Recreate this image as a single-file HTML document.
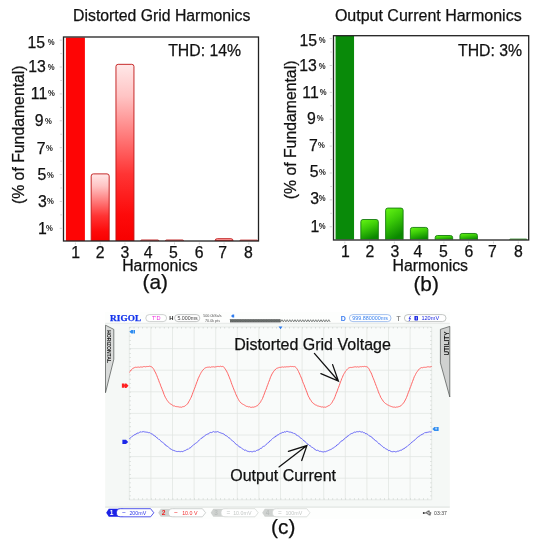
<!DOCTYPE html>
<html><head><meta charset="utf-8"><title>Harmonics figure</title>
<style>
html,body{margin:0;padding:0;background:#fff;}
body{width:540px;height:550px;overflow:hidden;}
svg{display:block;}
text{font-family:"Liberation Sans",sans-serif;fill:#111;}
.t16,.cap{stroke:#111;stroke-width:0.25px;}
.t16{font-size:15.8px;}
.yl{font-size:15px;text-anchor:end;}
.pc{font-size:9.4px;font-weight:bold;fill:#1a1a1a;}
.xl{font-size:15px;text-anchor:middle;}
.cap{font-size:20.8px;}
.tick{stroke:#d2d2d2;stroke-width:1;}
.sm{font-size:5.5px;}
</style></head><body>
<svg width="540" height="550" viewBox="0 0 540 550">
<defs>
<linearGradient id="gr" x1="0" y1="0" x2="0" y2="1"><stop offset="0" stop-color="#ffe8e8"/><stop offset="0.18" stop-color="#ffc4c4"/><stop offset="0.62" stop-color="#ff3434"/><stop offset="0.85" stop-color="#fd0a0a"/><stop offset="1" stop-color="#f80000"/></linearGradient>
<linearGradient id="gg" x1="0" y1="0" x2="0.35" y2="1"><stop offset="0" stop-color="#66f614"/><stop offset="0.45" stop-color="#3ccc08"/><stop offset="1" stop-color="#0a8800"/></linearGradient>
<clipPath id="cl"><rect x="64" y="37.5" width="194" height="203.5"/></clipPath>
<clipPath id="cr"><rect x="334" y="36" width="194.5" height="203.5"/></clipPath>
<clipPath id="cg"><rect x="129" y="326" width="303" height="175"/></clipPath>
</defs>
<rect width="540" height="550" fill="#fff"/>

<g clip-path="url(#cl)">
<rect x="65.90" y="32" width="19.0" height="209" fill="#fe0505"/>
<path d="M91.18,241.50 V176.08 Q91.18,173.88 93.38,173.88 H106.98 Q109.18,173.88 109.18,176.08 V241.50 Z" fill="url(#gr)" stroke="#c01414" stroke-width="0.9"/>
<path d="M115.96,241.50 V66.54 Q115.96,64.34 118.16,64.34 H131.76 Q133.96,64.34 133.96,66.54 V241.50 Z" fill="url(#gr)" stroke="#c01414" stroke-width="0.9"/>
<path d="M140.74,241.50 V240.90 Q140.74,240.00 141.64,240.00 H157.84 Q158.74,240.00 158.74,240.90 V241.50 Z" fill="url(#gr)" stroke="#c01414" stroke-width="0.9"/>
<path d="M165.52,241.50 V240.90 Q165.52,240.00 166.42,240.00 H182.62 Q183.52,240.00 183.52,240.90 V241.50 Z" fill="url(#gr)" stroke="#c01414" stroke-width="0.9"/>
<path d="M215.08,241.50 V240.86 Q215.08,238.66 217.28,238.66 H230.88 Q233.08,238.66 233.08,240.86 V241.50 Z" fill="url(#gr)" stroke="#c01414" stroke-width="0.9"/>
<path d="M239.86,241.50 V240.95 Q239.86,240.14 240.68,240.14 H257.04 Q257.86,240.14 257.86,240.95 V241.50 Z" fill="url(#gr)" stroke="#c01414" stroke-width="0.9"/>
</g>
<rect x="63.5" y="37" width="195.0" height="204" fill="none" stroke="#222" stroke-width="1.3"/>
<line class="tick" x1="59.699999999999996" x2="61.9" y1="228.31" y2="228.31"/>
<line class="tick" x1="60.3" x2="61.9" y1="214.87" y2="214.87"/>
<line class="tick" x1="59.699999999999996" x2="61.9" y1="201.43" y2="201.43"/>
<line class="tick" x1="60.3" x2="61.9" y1="187.99" y2="187.99"/>
<line class="tick" x1="59.699999999999996" x2="61.9" y1="174.55" y2="174.55"/>
<line class="tick" x1="60.3" x2="61.9" y1="161.11" y2="161.11"/>
<line class="tick" x1="59.699999999999996" x2="61.9" y1="147.67" y2="147.67"/>
<line class="tick" x1="60.3" x2="61.9" y1="134.23" y2="134.23"/>
<line class="tick" x1="59.699999999999996" x2="61.9" y1="120.79" y2="120.79"/>
<line class="tick" x1="60.3" x2="61.9" y1="107.35" y2="107.35"/>
<line class="tick" x1="59.699999999999996" x2="61.9" y1="93.91" y2="93.91"/>
<line class="tick" x1="60.3" x2="61.9" y1="80.47" y2="80.47"/>
<line class="tick" x1="59.699999999999996" x2="61.9" y1="67.03" y2="67.03"/>
<line class="tick" x1="60.3" x2="61.9" y1="53.59" y2="53.59"/>
<line class="tick" x1="59.699999999999996" x2="61.9" y1="40.15" y2="40.15"/>
<line class="tick" x1="75.40" x2="75.40" y1="242.5" y2="244.5"/>
<text class="t16" x="71.2" y="257.6">1</text>
<line class="tick" x1="100.18" x2="100.18" y1="242.5" y2="244.5"/>
<text class="t16" x="95.7" y="257.6">2</text>
<line class="tick" x1="124.96" x2="124.96" y1="242.5" y2="244.5"/>
<text class="t16" x="120.6" y="257.6">3</text>
<line class="tick" x1="149.74" x2="149.74" y1="242.5" y2="244.5"/>
<text class="t16" x="143.8" y="257.6">4</text>
<line class="tick" x1="174.52" x2="174.52" y1="242.5" y2="244.5"/>
<text class="t16" x="169.1" y="257.6">5</text>
<line class="tick" x1="199.30" x2="199.30" y1="242.5" y2="244.5"/>
<text class="t16" x="194.8" y="257.6">6</text>
<line class="tick" x1="224.08" x2="224.08" y1="242.5" y2="244.5"/>
<text class="t16" x="218.2" y="257.6">7</text>
<line class="tick" x1="248.86" x2="248.86" y1="242.5" y2="244.5"/>
<text class="t16" x="244.1" y="257.6">8</text>
<text class="t16" x="27.5" y="47.7">15</text><text class="pc" transform="translate(47.8,45.10) scale(0.82,1)">%</text>
<text class="t16" x="28.3" y="72.4">13</text><text class="pc" transform="translate(47.8,69.80) scale(0.82,1)">%</text>
<text class="t16" x="30.8" y="99.0">11</text><text class="pc" transform="translate(47.9,96.40) scale(0.82,1)">%</text>
<text class="t16" x="34.8" y="126.2">9</text><text class="pc" transform="translate(44.9,123.60) scale(0.82,1)">%</text>
<text class="t16" x="36.8" y="153.6">7</text><text class="pc" transform="translate(45.9,151.00) scale(0.82,1)">%</text>
<text class="t16" x="37.6" y="180.3">5</text><text class="pc" transform="translate(46.9,177.70) scale(0.82,1)">%</text>
<text class="t16" x="38.1" y="207.0">3</text><text class="pc" transform="translate(47.1,204.40) scale(0.82,1)">%</text>
<text class="t16" x="38.1" y="234.0">1</text><text class="pc" transform="translate(46.1,231.40) scale(0.82,1)">%</text>
<text class="t16" x="73.1" y="21.2" style="font-size:15.8px">Distorted Grid Harmonics</text>
<text class="t16" x="168.2" y="55.9">THD: 14%</text>
<text class="t16" x="122.2" y="271.3">Harmonics</text>
<text class="cap" x="142.6" y="289.3">(a)</text>
<text class="t16" transform="translate(23.5,204.1) rotate(-90)">(% of Fundamental)</text>
<g clip-path="url(#cr)">
<rect x="335.55" y="30.700000000000003" width="18.5" height="209.3" fill="#098a09"/>
<path d="M360.83,240.50 V221.70 Q360.83,219.50 363.03,219.50 H376.13 Q378.33,219.50 378.33,221.70 V240.50 Z" fill="url(#gg)" stroke="#167c10" stroke-width="0.9"/>
<path d="M385.61,240.50 V210.28 Q385.61,208.08 387.81,208.08 H400.91 Q403.11,208.08 403.11,210.28 V240.50 Z" fill="url(#gg)" stroke="#167c10" stroke-width="0.9"/>
<path d="M410.39,240.50 V229.63 Q410.39,227.43 412.59,227.43 H425.69 Q427.89,227.43 427.89,229.63 V240.50 Z" fill="url(#gg)" stroke="#167c10" stroke-width="0.9"/>
<path d="M435.17,240.50 V237.70 Q435.17,235.50 437.37,235.50 H450.47 Q452.67,235.50 452.67,237.70 V240.50 Z" fill="url(#gg)" stroke="#167c10" stroke-width="0.9"/>
<path d="M459.95,240.50 V235.68 Q459.95,233.48 462.15,233.48 H475.25 Q477.45,233.48 477.45,235.68 V240.50 Z" fill="url(#gg)" stroke="#167c10" stroke-width="0.9"/>
<path d="M509.51,240.50 V239.95 Q509.51,239.12 510.34,239.12 H526.18 Q527.01,239.12 527.01,239.95 V240.50 Z" fill="url(#gg)" stroke="#167c10" stroke-width="0.9"/>
</g>
<rect x="333.5" y="35.7" width="195.20000000000005" height="204.3" fill="none" stroke="#222" stroke-width="1.3"/>
<line class="tick" x1="329.7" x2="331.9" y1="226.76" y2="226.76"/>
<line class="tick" x1="330.29999999999995" x2="331.9" y1="213.32" y2="213.32"/>
<line class="tick" x1="329.7" x2="331.9" y1="199.88" y2="199.88"/>
<line class="tick" x1="330.29999999999995" x2="331.9" y1="186.44" y2="186.44"/>
<line class="tick" x1="329.7" x2="331.9" y1="173.00" y2="173.00"/>
<line class="tick" x1="330.29999999999995" x2="331.9" y1="159.56" y2="159.56"/>
<line class="tick" x1="329.7" x2="331.9" y1="146.12" y2="146.12"/>
<line class="tick" x1="330.29999999999995" x2="331.9" y1="132.68" y2="132.68"/>
<line class="tick" x1="329.7" x2="331.9" y1="119.24" y2="119.24"/>
<line class="tick" x1="330.29999999999995" x2="331.9" y1="105.80" y2="105.80"/>
<line class="tick" x1="329.7" x2="331.9" y1="92.36" y2="92.36"/>
<line class="tick" x1="330.29999999999995" x2="331.9" y1="78.92" y2="78.92"/>
<line class="tick" x1="329.7" x2="331.9" y1="65.48" y2="65.48"/>
<line class="tick" x1="330.29999999999995" x2="331.9" y1="52.04" y2="52.04"/>
<line class="tick" x1="329.7" x2="331.9" y1="38.60" y2="38.60"/>
<line class="tick" x1="344.80" x2="344.80" y1="241.5" y2="243.5"/>
<text class="t16" x="341.0" y="256.70000000000005">1</text>
<line class="tick" x1="369.58" x2="369.58" y1="241.5" y2="243.5"/>
<text class="t16" x="365.5" y="256.70000000000005">2</text>
<line class="tick" x1="394.36" x2="394.36" y1="241.5" y2="243.5"/>
<text class="t16" x="390.4" y="256.70000000000005">3</text>
<line class="tick" x1="419.14" x2="419.14" y1="241.5" y2="243.5"/>
<text class="t16" x="413.6" y="256.70000000000005">4</text>
<line class="tick" x1="443.92" x2="443.92" y1="241.5" y2="243.5"/>
<text class="t16" x="438.9" y="256.70000000000005">5</text>
<line class="tick" x1="468.70" x2="468.70" y1="241.5" y2="243.5"/>
<text class="t16" x="464.6" y="256.70000000000005">6</text>
<line class="tick" x1="493.48" x2="493.48" y1="241.5" y2="243.5"/>
<text class="t16" x="488.0" y="256.70000000000005">7</text>
<line class="tick" x1="518.26" x2="518.26" y1="241.5" y2="243.5"/>
<text class="t16" x="513.9" y="256.70000000000005">8</text>
<text class="t16" x="299.5" y="45.9">15</text><text class="pc" transform="translate(318.8,43.30) scale(0.82,1)">%</text>
<text class="t16" x="299.3" y="71.1">13</text><text class="pc" transform="translate(318.8,68.50) scale(0.82,1)">%</text>
<text class="t16" x="302.3" y="97.8">11</text><text class="pc" transform="translate(319.85,95.20) scale(0.82,1)">%</text>
<text class="t16" x="306.9" y="123.5">9</text><text class="pc" transform="translate(316.7,120.90) scale(0.82,1)">%</text>
<text class="t16" x="308.9" y="150.6">7</text><text class="pc" transform="translate(317.9,148.00) scale(0.82,1)">%</text>
<text class="t16" x="309.8" y="177.45">5</text><text class="pc" transform="translate(318.9,174.85) scale(0.82,1)">%</text>
<text class="t16" x="310.2" y="204.0">3</text><text class="pc" transform="translate(318.8,201.40) scale(0.82,1)">%</text>
<text class="t16" x="310.5" y="231.7">1</text><text class="pc" transform="translate(318.8,229.10) scale(0.82,1)">%</text>
<text class="t16" x="334.9" y="20.9" style="font-size:16.0px">Output Current Harmonics</text>
<text class="t16" x="458" y="55.7">THD: 3%</text>
<text class="t16" x="392.5" y="270.8">Harmonics</text>
<text class="cap" x="413.4" y="290.6">(b)</text>
<text class="t16" transform="translate(295.5,199.3) rotate(-90)">(% of Fundamental)</text>
<rect x="105.2" y="312.0" width="344.6" height="207.0" fill="#fdfefd"/>
<rect x="105.2" y="323.3" width="344.6" height="183.8" fill="#f5f8f6"/>
<line x1="105.2" x2="449.8" y1="323.3" y2="323.3" stroke="#dfe4e1" stroke-width="0.8"/>
<line x1="105.2" x2="449.8" y1="507.1" y2="507.1" stroke="#d4d9d6" stroke-width="0.8"/>
<rect x="129.3" y="327.0" width="302.40000000000003" height="172.8" fill="#f9fbfa"/>
<path d="M129.30,327.0V499.80M150.90,327.0V499.80M172.50,327.0V499.80M194.10,327.0V499.80M215.70,327.0V499.80M237.30,327.0V499.80M258.90,327.0V499.80M280.50,327.0V499.80M302.10,327.0V499.80M323.70,327.0V499.80M345.30,327.0V499.80M366.90,327.0V499.80M388.50,327.0V499.80M410.10,327.0V499.80M431.70,327.0V499.80M129.3,327.00H431.70M129.3,348.60H431.70M129.3,370.20H431.70M129.3,391.80H431.70M129.3,413.40H431.70M129.3,435.00H431.70M129.3,456.60H431.70M129.3,478.20H431.70M129.3,499.80H431.70" stroke="#e0e5e2" stroke-width="0.75" fill="none"/>
<path d="M130.10000000000002,327.0V499.80M430.90,327.0V499.80" stroke="#cfd5d1" stroke-width="1.4" stroke-dasharray="0.8 3.52" fill="none"/>
<path d="M129.3,327.8H431.70M129.3,499.00H431.70" stroke="#cfd5d1" stroke-width="1.4" stroke-dasharray="0.8 3.52" fill="none"/>
<polyline points="129.3,372.51 129.9,371.53 130.5,371.00 131.1,370.00 131.7,369.59 132.3,368.90 132.9,368.22 133.5,368.05 134.1,367.57 134.7,367.60 135.3,367.30 135.9,367.24 136.5,367.34 137.1,367.49 137.7,367.07 138.3,367.05 138.9,367.20 139.5,367.31 140.1,367.08 140.7,366.94 141.3,367.19 141.9,366.69 142.5,367.06 143.1,366.74 143.7,366.63 144.3,366.58 144.9,366.62 145.5,366.83 146.1,366.46 146.7,366.61 147.3,366.59 147.9,366.43 148.5,366.49 149.1,366.24 149.7,366.25 150.3,366.35 150.9,366.69 151.5,366.80 152.1,367.14 152.7,367.86 153.3,368.61 153.9,369.52 154.5,370.86 155.1,371.97 155.7,372.96 156.3,374.41 156.9,375.75 157.5,377.40 158.1,378.90 158.7,380.29 159.3,382.25 159.9,383.39 160.5,385.11 161.1,386.84 161.7,388.09 162.3,389.79 162.9,391.11 163.5,392.98 164.1,394.54 164.7,395.87 165.3,397.30 165.9,398.16 166.5,399.39 167.1,400.27 167.7,401.11 168.3,401.79 168.9,402.63 169.5,403.26 170.1,403.53 170.7,404.08 171.3,404.21 171.9,404.92 172.5,405.25 173.1,405.74 173.7,405.93 174.3,405.89 174.9,406.14 175.5,406.47 176.1,406.32 176.7,406.69 177.3,406.67 177.9,406.76 178.5,406.83 179.1,407.26 179.7,407.00 180.3,407.09 180.9,407.12 181.5,407.28 182.1,406.75 182.7,406.77 183.3,406.62 183.9,406.58 184.5,406.30 185.1,406.02 185.7,405.36 186.3,404.96 186.9,404.33 187.5,403.88 188.1,403.09 188.7,401.78 189.3,400.81 189.9,399.75 190.5,398.56 191.1,397.36 191.7,395.99 192.3,394.32 192.9,392.63 193.5,391.25 194.1,389.63 194.7,388.08 195.3,386.59 195.9,384.79 196.5,383.07 197.1,381.54 197.7,380.01 198.3,378.17 198.9,377.13 199.5,375.70 200.1,374.52 200.7,373.40 201.3,372.24 201.9,371.38 202.5,370.48 203.1,370.07 203.7,369.15 204.3,368.56 204.9,368.14 205.5,367.79 206.1,367.66 206.7,367.37 207.3,367.24 207.9,367.24 208.5,367.16 209.1,367.23 209.7,367.00 210.3,367.36 210.9,367.17 211.5,366.89 212.1,366.90 212.7,366.90 213.3,366.87 213.9,366.71 214.5,367.04 215.1,367.08 215.7,366.78 216.3,366.74 216.9,366.50 217.5,366.45 218.1,366.52 218.7,366.44 219.3,366.68 219.9,366.31 220.5,366.22 221.1,366.69 221.7,366.49 222.3,366.34 222.9,366.69 223.5,366.72 224.1,367.41 224.7,368.30 225.3,369.13 225.9,370.08 226.5,370.98 227.1,372.20 227.7,373.34 228.3,374.95 228.9,376.23 229.5,377.87 230.1,379.24 230.7,380.80 231.3,382.69 231.9,384.35 232.5,385.85 233.1,387.39 233.7,388.94 234.3,390.43 234.9,391.72 235.5,393.42 236.1,394.83 236.7,396.04 237.3,397.27 237.9,398.50 238.5,399.49 239.1,400.61 239.7,401.56 240.3,402.01 240.9,402.88 241.5,403.45 242.1,403.92 242.7,404.08 243.3,404.42 243.9,404.81 244.5,405.13 245.1,405.44 245.7,405.91 246.3,406.27 246.9,406.43 247.5,406.43 248.1,406.68 248.7,406.90 249.3,406.67 249.9,407.07 250.5,407.28 251.1,407.29 251.7,407.33 252.3,407.20 252.9,407.00 253.5,407.20 254.1,406.83 254.7,406.88 255.3,406.77 255.9,406.26 256.5,406.00 257.1,405.95 257.7,405.44 258.3,404.65 258.9,403.99 259.5,403.25 260.1,402.77 260.7,401.79 261.3,400.45 261.9,399.66 262.5,398.50 263.1,396.99 263.7,395.38 264.3,393.95 264.9,392.17 265.5,390.52 266.1,389.39 266.7,387.56 267.3,385.82 267.9,384.36 268.5,382.50 269.1,381.14 269.7,379.57 270.3,377.75 270.9,376.33 271.5,375.03 272.1,373.83 272.7,372.96 273.3,371.87 273.9,371.13 274.5,370.26 275.1,369.99 275.7,369.09 276.3,368.58 276.9,368.20 277.5,368.08 278.1,367.64 278.7,367.76 279.3,367.46 279.9,367.42 280.5,367.35 281.1,367.04 281.7,367.18 282.3,367.00 282.9,366.85 283.5,367.20 284.1,366.84 284.7,366.95 285.3,367.04 285.9,366.92 286.5,366.77 287.1,366.83 287.7,366.81 288.3,366.88 288.9,366.49 289.5,366.66 290.1,366.46 290.7,366.43 291.3,366.64 291.9,366.48 292.5,366.49 293.1,366.59 293.7,366.69 294.3,366.53 294.9,366.80 295.5,367.09 296.1,367.60 296.7,368.43 297.3,369.25 297.9,370.36 298.5,371.47 299.1,372.89 299.7,374.03 300.3,375.46 300.9,376.93 301.5,378.13 302.1,379.89 302.7,381.70 303.3,383.23 303.9,384.45 304.5,386.00 305.1,387.72 305.7,389.08 306.3,390.69 306.9,392.17 307.5,394.00 308.1,395.51 308.7,396.90 309.3,397.71 309.9,399.07 310.5,400.01 311.1,400.62 311.7,401.77 312.3,402.49 312.9,402.71 313.5,403.60 314.1,403.80 314.7,404.28 315.3,404.94 315.9,405.23 316.5,405.22 317.1,405.65 317.7,405.94 318.3,406.06 318.9,406.17 319.5,406.41 320.1,406.77 320.7,406.56 321.3,406.95 321.9,406.99 322.5,406.86 323.1,407.08 323.7,407.27 324.3,407.20 324.9,406.91 325.5,407.25 326.1,407.00 326.7,406.90 327.3,406.26 327.9,406.11 328.5,405.72 329.1,405.74 329.7,405.05 330.3,404.43 330.9,403.90 331.5,403.35 332.1,402.42 332.7,401.19 333.3,400.09 333.9,399.31 334.5,397.86 335.1,396.53 335.7,394.75 336.3,393.18 336.9,391.92 337.5,390.20 338.1,388.39 338.7,387.15 339.3,385.32 339.9,383.75 340.5,381.80 341.1,380.61 341.7,378.68 342.3,377.59 342.9,375.98 343.5,374.64 344.1,373.63 344.7,372.81 345.3,371.59 345.9,370.73 346.5,370.23 347.1,369.44 347.7,368.77 348.3,368.27 348.9,367.82 349.5,367.65 350.1,367.54 350.7,367.42 351.3,367.57 351.9,367.28 352.5,367.32 353.1,367.09 353.7,367.12 354.3,366.89 354.9,366.96 355.5,366.79 356.1,367.11 356.7,366.98 357.3,366.76 357.9,366.87 358.5,367.06 359.1,366.61 359.7,366.93 360.3,366.69 360.9,366.67 361.5,366.78 362.1,366.52 362.7,366.53 363.3,366.58 363.9,366.71 364.5,366.38 365.1,366.64 365.7,366.60 366.3,366.67 366.9,366.79 367.5,367.16 368.1,367.59 368.7,368.44 369.3,369.41 369.9,370.84 370.5,371.75 371.1,372.91 371.7,374.16 372.3,375.90 372.9,377.40 373.5,378.87 374.1,380.29 374.7,381.88 375.3,383.48 375.9,385.13 376.5,386.54 377.1,388.24 377.7,389.68 378.3,391.57 378.9,393.13 379.5,394.44 380.1,395.70 380.7,397.34 381.3,398.16 381.9,399.22 382.5,399.98 383.1,401.01 383.7,401.80 384.3,402.47 384.9,402.88 385.5,403.54 386.1,403.75 386.7,404.31 387.3,404.61 387.9,405.13 388.5,405.26 389.1,405.53 389.7,405.90 390.3,406.07 390.9,406.43 391.5,406.57 392.1,406.83 392.7,406.92 393.3,407.06 393.9,407.24 394.5,407.07 395.1,407.10 395.7,407.45 396.3,407.00 396.9,407.21 397.5,407.03 398.1,406.57 398.7,406.77 399.3,406.58 399.9,406.20 400.5,405.96 401.1,405.62 401.7,404.82 402.3,404.42 402.9,403.69 403.5,403.03 404.1,402.11 404.7,401.14 405.3,399.93 405.9,398.89 406.5,397.46 407.1,396.04 407.7,394.31 408.3,392.65 408.9,391.11 409.5,389.63 410.1,387.85 410.7,386.54 411.3,384.72 411.9,383.13 412.5,381.55 413.1,380.01 413.7,378.39 414.3,376.68 414.9,375.71 415.5,374.46 416.1,373.26 416.7,372.31 417.3,371.52 417.9,370.46 418.5,370.12 419.1,369.24 419.7,368.56 420.3,368.17 420.9,368.07 421.5,367.59 422.1,367.71 422.7,367.73 423.3,367.42 423.9,367.30 424.5,367.29 425.1,367.32 425.7,367.31 426.3,367.18 426.9,367.14 427.5,366.81 428.1,366.80 428.7,366.82 429.3,367.02 429.9,366.77 430.5,366.86 431.1,366.55 431.7,366.53" fill="none" stroke="#ff5c5c" stroke-width="0.95" stroke-linejoin="round" clip-path="url(#cg)"/>
<polyline points="129.3,438.58 129.9,438.37 130.5,437.89 131.1,437.40 131.7,436.67 132.3,436.37 132.9,435.90 133.5,435.48 134.1,434.83 134.7,434.99 135.3,434.14 135.9,434.34 136.5,433.98 137.1,433.04 137.7,433.07 138.3,433.06 138.9,432.94 139.5,432.37 140.1,432.06 140.7,431.86 141.3,432.25 141.9,431.64 142.5,431.82 143.1,431.47 143.7,431.72 144.3,432.03 144.9,431.49 145.5,432.03 146.1,431.91 146.7,432.29 147.3,432.31 147.9,432.15 148.5,432.81 149.1,432.75 149.7,432.67 150.3,432.93 150.9,433.57 151.5,433.86 152.1,434.09 152.7,434.34 153.3,434.86 153.9,435.24 154.5,436.02 155.1,435.87 155.7,436.84 156.3,437.36 156.9,437.33 157.5,438.38 158.1,438.73 158.7,439.36 159.3,439.44 159.9,440.02 160.5,440.55 161.1,441.50 161.7,441.74 162.3,442.11 162.9,442.68 163.5,443.09 164.1,443.45 164.7,444.00 165.3,445.02 165.9,445.13 166.5,446.07 167.1,446.06 167.7,446.54 168.3,447.16 168.9,447.36 169.5,447.91 170.1,448.72 170.7,449.05 171.3,449.36 171.9,449.57 172.5,450.09 173.1,450.41 173.7,450.41 174.3,450.77 174.9,450.53 175.5,451.21 176.1,451.19 176.7,451.54 177.3,451.59 177.9,451.43 178.5,451.33 179.1,451.99 179.7,451.44 180.3,451.66 180.9,451.53 181.5,451.43 182.1,451.64 182.7,451.68 183.3,451.02 183.9,451.12 184.5,450.67 185.1,450.62 185.7,450.25 186.3,449.82 186.9,449.51 187.5,449.22 188.1,449.37 188.7,448.71 189.3,448.14 189.9,448.21 190.5,447.86 191.1,447.04 191.7,446.37 192.3,445.94 192.9,445.40 193.5,445.08 194.1,444.41 194.7,444.01 195.3,443.51 195.9,443.21 196.5,442.91 197.1,442.29 197.7,441.53 198.3,441.00 198.9,440.56 199.5,439.93 200.1,439.39 200.7,438.69 201.3,438.34 201.9,438.33 202.5,437.25 203.1,437.05 203.7,436.68 204.3,436.40 204.9,435.51 205.5,435.14 206.1,434.73 206.7,434.46 207.3,434.13 207.9,434.15 208.5,433.77 209.1,433.49 209.7,432.63 210.3,432.39 210.9,432.65 211.5,432.59 212.1,432.12 212.7,432.06 213.3,431.54 213.9,431.72 214.5,432.04 215.1,431.93 215.7,431.95 216.3,432.06 216.9,431.60 217.5,431.58 218.1,431.72 218.7,432.11 219.3,432.38 219.9,432.74 220.5,432.80 221.1,432.98 221.7,433.33 222.3,433.39 222.9,433.77 223.5,433.74 224.1,434.61 224.7,434.59 225.3,435.46 225.9,435.68 226.5,435.86 227.1,436.18 227.7,436.72 228.3,437.45 228.9,437.98 229.5,438.06 230.1,438.53 230.7,439.35 231.3,439.91 231.9,440.29 232.5,440.70 233.1,441.49 233.7,441.60 234.3,442.33 234.9,442.96 235.5,443.83 236.1,444.12 236.7,444.80 237.3,445.01 237.9,445.34 238.5,445.83 239.1,446.79 239.7,447.07 240.3,447.23 240.9,447.46 241.5,448.20 242.1,448.71 242.7,448.91 243.3,449.14 243.9,449.76 244.5,450.25 245.1,450.05 245.7,450.17 246.3,450.62 246.9,450.89 247.5,451.26 248.1,451.09 248.7,451.64 249.3,451.71 249.9,451.62 250.5,451.47 251.1,452.03 251.7,451.56 252.3,451.89 252.9,451.42 253.5,451.33 254.1,451.59 254.7,451.13 255.3,451.42 255.9,450.91 256.5,450.48 257.1,450.26 257.7,450.13 258.3,450.02 258.9,449.90 259.5,449.01 260.1,448.83 260.7,448.33 261.3,448.47 261.9,447.47 262.5,446.98 263.1,446.54 263.7,446.32 264.3,446.20 264.9,445.71 265.5,445.11 266.1,444.79 266.7,444.24 267.3,443.30 267.9,442.68 268.5,442.68 269.1,442.03 269.7,441.00 270.3,440.92 270.9,440.20 271.5,439.67 272.1,439.13 272.7,438.51 273.3,437.90 273.9,437.60 274.5,437.18 275.1,437.13 275.7,436.10 276.3,436.25 276.9,435.30 277.5,435.00 278.1,434.94 278.7,434.57 279.3,433.95 279.9,433.36 280.5,433.36 281.1,433.01 281.7,433.13 282.3,432.39 282.9,432.31 283.5,432.50 284.1,431.74 284.7,431.88 285.3,432.06 285.9,431.95 286.5,431.40 287.1,431.37 287.7,431.40 288.3,432.04 288.9,431.64 289.5,432.08 290.1,432.30 290.7,432.05 291.3,432.18 291.9,432.86 292.5,432.84 293.1,432.84 293.7,433.43 294.3,433.45 294.9,433.73 295.5,433.88 296.1,434.77 296.7,435.26 297.3,435.46 297.9,436.09 298.5,435.88 299.1,436.48 299.7,437.11 300.3,437.92 300.9,438.40 301.5,438.50 302.1,438.91 302.7,439.54 303.3,440.10 303.9,440.93 304.5,440.93 305.1,441.89 305.7,442.37 306.3,442.95 306.9,443.44 307.5,443.84 308.1,444.16 308.7,444.66 309.3,445.18 309.9,445.96 310.5,445.94 311.1,446.49 311.7,447.33 312.3,447.40 312.9,447.69 313.5,448.07 314.1,448.82 314.7,449.02 315.3,449.82 315.9,450.07 316.5,450.44 317.1,450.21 317.7,450.33 318.3,450.56 318.9,451.04 319.5,451.37 320.1,451.33 320.7,451.30 321.3,451.52 321.9,451.73 322.5,451.81 323.1,451.87 323.7,451.93 324.3,451.76 324.9,451.30 325.5,451.71 326.1,451.20 326.7,451.24 327.3,450.93 327.9,450.98 328.5,450.37 329.1,450.15 329.7,449.87 330.3,449.51 330.9,449.69 331.5,449.14 332.1,448.60 332.7,448.26 333.3,448.27 333.9,447.52 334.5,446.89 335.1,446.84 335.7,446.27 336.3,446.03 336.9,444.92 337.5,444.68 338.1,444.42 338.7,443.92 339.3,443.45 339.9,442.32 340.5,441.97 341.1,441.32 341.7,440.85 342.3,440.87 342.9,440.08 343.5,439.81 344.1,438.91 344.7,438.75 345.3,437.96 345.9,437.35 346.5,437.24 347.1,436.90 347.7,435.87 348.3,435.78 348.9,435.38 349.5,434.71 350.1,434.44 350.7,433.92 351.3,433.63 351.9,433.35 352.5,433.30 353.1,433.07 353.7,432.51 354.3,432.16 354.9,432.19 355.5,432.27 356.1,431.78 356.7,431.75 357.3,431.59 357.9,431.95 358.5,431.74 359.1,431.40 359.7,431.45 360.3,431.70 360.9,431.89 361.5,432.06 362.1,431.80 362.7,432.01 363.3,432.57 363.9,432.58 364.5,432.73 365.1,433.01 365.7,433.74 366.3,433.60 366.9,434.10 367.5,434.31 368.1,434.72 368.7,435.42 369.3,435.92 369.9,435.90 370.5,436.22 371.1,437.05 371.7,437.15 372.3,437.49 372.9,438.61 373.5,438.77 374.1,439.56 374.7,439.78 375.3,440.64 375.9,440.86 376.5,441.18 377.1,441.60 377.7,442.50 378.3,443.09 378.9,443.80 379.5,443.74 380.1,444.62 380.7,444.94 381.3,445.52 381.9,445.75 382.5,446.32 383.1,446.94 383.7,447.66 384.3,447.52 384.9,448.19 385.5,448.80 386.1,449.29 386.7,449.10 387.3,449.38 387.9,450.26 388.5,450.57 389.1,450.49 389.7,450.42 390.3,451.25 390.9,451.06 391.5,451.58 392.1,451.52 392.7,451.77 393.3,451.38 393.9,451.87 394.5,451.50 395.1,451.63 395.7,451.91 396.3,451.84 396.9,451.30 397.5,451.21 398.1,451.20 398.7,451.12 399.3,450.83 399.9,450.43 400.5,450.28 401.1,450.35 401.7,450.18 402.3,449.27 402.9,449.30 403.5,449.08 404.1,448.20 404.7,448.37 405.3,447.45 405.9,447.36 406.5,446.89 407.1,446.48 407.7,445.79 408.3,445.38 408.9,445.01 409.5,444.39 410.1,444.05 410.7,443.38 411.3,442.86 411.9,442.04 412.5,441.94 413.1,441.32 413.7,440.62 414.3,440.47 414.9,439.96 415.5,439.22 416.1,438.52 416.7,438.23 417.3,437.48 417.9,437.02 418.5,436.77 419.1,436.08 419.7,435.88 420.3,435.51 420.9,434.78 421.5,434.81 422.1,434.06 422.7,434.17 423.3,433.87 423.9,433.38 424.5,432.78 425.1,432.84 425.7,432.52 426.3,432.72 426.9,431.97 427.5,432.32 428.1,432.29 428.7,432.00 429.3,431.99 429.9,431.50 430.5,432.04 431.1,431.70 431.7,432.07" fill="none" stroke="#5a5af4" stroke-width="0.95" stroke-linejoin="round" clip-path="url(#cg)"/>
<path d="M124.8,383.4h1.6l2.1,2.3l-2.1,2.3h-1.6z" fill="#ff2020"/><path d="M121.9,383.6h2.3l1,2.1l-1,2.1h-2.3z" fill="#ff2020"/>
<path d="M122.4,439.7h3.6l2.2,2.2l-2.2,2.2h-3.6z" fill="#1c28e8"/>
<path d="M438.6,427.1h-4.2l-2,1.9l2,1.9h4.2z" fill="#2f8cf0"/><path d="M435,428.1h2.2M436.1,428.1v2" stroke="#fff" stroke-width="0.6" fill="none"/>
<path d="M135,329.9h-1.6v3.6h1.6zM133,329.9h-1.6l-2,1.8l2,1.8h1.6z" fill="#2f8cf0"/>
<path d="M278.6,326.6h3.8l-1.9,2.6z" fill="#2a7af0"/>
<path d="M234.2,314.6h-1.6l-1.6,1.5l1.6,1.5h1.6z" fill="#2f7cf0"/>
<path d="M105.5,325.2 L113.8,329.4 L113.8,359.3 L105.5,392.7 Z" fill="#d9dbda" stroke="#4e5250" stroke-width="0.7" stroke-linejoin="round"/>
<text transform="translate(106.9,330.2) rotate(90) scale(0.82,1)" style="font-size:6.2px;font-weight:bold;" fill="#111">HORIZONTAL</text>
<path d="M449.8,326.4 L440.4,329.4 L440.4,362.9 L449.8,397 Z" fill="#cfd1d0" stroke="#4e5250" stroke-width="0.7" stroke-linejoin="round"/>
<text transform="translate(448.6,355.6) rotate(-90) scale(0.86,1)" style="font-size:7.4px;font-weight:bold;" fill="#111">UTILITY</text>
<text x="110" y="320.9" style="font-family:'Liberation Serif',serif;font-weight:bold;font-size:9.2px;letter-spacing:0.1px;fill:#1434ec;stroke:#1434ec;stroke-width:0.25px">RIGOL</text>
<rect x="145.8" y="314.6" width="20.799999999999983" height="7.0" rx="3.5" ry="3.5" fill="#fff" stroke="#b9bdbb" stroke-width="0.7"/>
<text x="156.2" y="320.2" text-anchor="middle" style="font-size:5.6px;fill:#f030e0">T'D</text>
<text x="169.2" y="320.4" style="font-size:5.8px;font-weight:bold;fill:#222">H</text>
<rect x="174.6" y="314.6" width="25.200000000000017" height="7.0" rx="3.5" ry="3.5" fill="#fff" stroke="#a8acaa" stroke-width="0.7"/>
<text x="187.6" y="320.2" text-anchor="middle" style="font-size:5.3px;fill:#444">5.000ms</text>
<text x="212.5" y="317.4" text-anchor="middle" style="font-size:3.7px;fill:#555">500.0kSa/s</text>
<text x="212.5" y="321.8" text-anchor="middle" style="font-size:3.7px;fill:#555">70.0k pts</text>
<rect x="230" y="319.2" width="50.6" height="3.2" fill="#5f6361"/>
<polyline points="230.0,319.7 231.3,321.9 232.6,319.7 233.9,321.9 235.2,319.7 236.5,321.9 237.8,319.7 239.1,321.9 240.4,319.7 241.7,321.9 243.0,319.7 244.3,321.9 245.6,319.7 246.9,321.9 248.2,319.7 249.5,321.9 250.8,319.7 252.1,321.9 253.4,319.7 254.7,321.9 256.0,319.7 257.3,321.9 258.6,319.7 259.9,321.9 261.2,319.7 262.5,321.9 263.8,319.7 265.1,321.9 266.4,319.7 267.7,321.9 269.0,319.7 270.3,321.9 271.6,319.7 272.9,321.9 274.2,319.7 275.5,321.9 276.8,319.7 278.1,321.9 279.4,319.7 280.7,321.9 282.0,319.7 283.3,321.9 284.6,319.7 285.9,321.9 287.2,319.7 288.5,321.9 289.8,319.7 291.1,321.9 292.4,319.7 293.7,321.9 295.0,319.7 296.3,321.9 297.6,319.7 298.9,321.9 300.2,319.7 301.5,321.9 302.8,319.7 304.1,321.9 305.4,319.7 306.7,321.9 308.0,319.7 309.3,321.9 310.6,319.7 311.9,321.9 313.2,319.7 314.5,321.9 315.8,319.7 317.1,321.9 318.4,319.7 319.7,321.9 321.0,319.7 322.3,321.9 323.6,319.7 324.9,321.9 326.2,319.7 327.5,321.9 328.8,319.7 330.1,321.9" fill="none" stroke="#6c706e" stroke-width="0.85"/>
<text x="340.8" y="320.7" style="font-size:7px;font-weight:bold;fill:#3a7cf0">D</text>
<rect x="349.4" y="314.6" width="41.60000000000002" height="7.0" rx="3.5" ry="3.5" fill="#fff" stroke="#7fa8e8" stroke-width="0.7"/>
<text x="370.2" y="320.2" text-anchor="middle" style="font-size:5.4px;fill:#3a82ee">999.880000ms</text>
<text x="396.4" y="320.5" style="font-size:6.6px;font-weight:bold;fill:#8a8a8a">T</text>
<rect x="404.4" y="314.6" width="41.60000000000002" height="7.0" rx="3.5" ry="3.5" fill="#fff" stroke="#a9adab" stroke-width="0.7"/>
<path d="M410.6,315.9l-1.6,2.6h1.5l-1.5,2.6" fill="none" stroke="#1c28e0" stroke-width="0.8"/>
<rect x="414.4" y="316" width="3.6" height="4.4" rx="0.6" fill="#1c28e0"/><rect x="415.9" y="316.8" width="0.6" height="2.8" fill="#fff"/>
<text x="421.4" y="320.3" style="font-size:5.6px;fill:#1c28e0">120mV</text>
<path d="M108.8,508.7 H123.2 V516.8 H108.8 L106.2,512.75 Z" fill="#1c22e6"/>
<path d="M120.5,508.7 H150.60000000000002 L153.8,512.75 L150.60000000000002,516.8 H120.5 A4.049999999999983,4.049999999999983 0 0 1 120.5,508.7 Z" fill="#fff" stroke="#2a30e6" stroke-width="0.8"/>
<text x="111.60000000000001" y="515.1" text-anchor="middle" style="font-size:6.6px;font-weight:bold;fill:#fff">1</text>
<text x="123.80000000000001" y="515.4" text-anchor="middle" style="font-size:6.4px;fill:#3038e8">~</text>
<text x="137.8" y="515.0" text-anchor="middle" style="font-size:5.3px;fill:#3038e8">200mV</text>
<path d="M160.79999999999998,508.7 H175.2 V516.8 H160.79999999999998 L158.2,512.75 Z" fill="#cfd2d0"/>
<path d="M172.5,508.7 H202.4 L205.6,512.75 L202.4,516.8 H172.5 A4.049999999999983,4.049999999999983 0 0 1 172.5,508.7 Z" fill="#fff" stroke="#c4c8c6" stroke-width="0.8"/>
<text x="163.6" y="515.1" text-anchor="middle" style="font-size:6.6px;font-weight:bold;fill:#f02020">2</text>
<text x="175.79999999999998" y="515.4" text-anchor="middle" style="font-size:6.4px;fill:#f03030">~</text>
<text x="189.79999999999998" y="515.0" text-anchor="middle" style="font-size:5.3px;fill:#f03030">10.0 V</text>
<path d="M213.29999999999998,508.7 H227.7 V516.8 H213.29999999999998 L210.7,512.75 Z" fill="#d0d3d1"/>
<path d="M225.0,508.7 H255.0 L258.2,512.75 L255.0,516.8 H225.0 A4.049999999999983,4.049999999999983 0 0 1 225.0,508.7 Z" fill="#fff" stroke="#d6d9d7" stroke-width="0.8"/>
<text x="216.1" y="515.1" text-anchor="middle" style="font-size:6.6px;font-weight:bold;fill:#bcc0be">3</text>
<text x="228.29999999999998" y="515.4" text-anchor="middle" style="font-size:6.4px;fill:#c4c8c6">=</text>
<text x="242.29999999999998" y="515.0" text-anchor="middle" style="font-size:5.3px;fill:#c4c8c6">10.0mV</text>
<path d="M264.8,508.7 H279.2 V516.8 H264.8 L262.2,512.75 Z" fill="#d0d3d1"/>
<path d="M276.5,508.7 H306.8 L310,512.75 L306.8,516.8 H276.5 A4.049999999999983,4.049999999999983 0 0 1 276.5,508.7 Z" fill="#fff" stroke="#d6d9d7" stroke-width="0.8"/>
<text x="267.59999999999997" y="515.1" text-anchor="middle" style="font-size:6.6px;font-weight:bold;fill:#bcc0be">4</text>
<text x="279.8" y="515.4" text-anchor="middle" style="font-size:6.4px;fill:#c4c8c6">=</text>
<text x="293.8" y="515.0" text-anchor="middle" style="font-size:5.3px;fill:#c4c8c6">100mV</text>
<g transform="translate(-2.6,0) scale(1.0)"><path d="M426.2,513h6.4M428.4,513l1.4,-1.7h1.4M429.4,513l1.4,1.7h1.6" stroke="#333" stroke-width="0.7" fill="none"/><circle cx="426.3" cy="513" r="0.9" fill="#333"/><path d="M432.4,511.9l1.8,1.1l-1.8,1.1z" fill="#333"/><rect x="430.9" y="510.6" width="1.3" height="1.3" fill="#333"/><circle cx="432.6" cy="514.8" r="0.7" fill="#333"/></g>
<text x="434.1" y="515.2" style="font-size:5.1px;fill:#444">03:37</text>
<text class="t16" x="234.3" y="349.6" style="font-size:16px">Distorted Grid Voltage</text>
<text class="t16" x="230.2" y="481" style="font-size:16px">Output Current</text>
<path d="M314.4,353.4L338.4,381M332.6,364.6L338.4,381L320.9,373.6" fill="none" stroke="#111" stroke-width="1.3" stroke-linecap="round" stroke-linejoin="miter"/>
<path d="M279,466.9L306.9,445.6M288.4,451.4L306.9,445.6L301.7,460.5" fill="none" stroke="#111" stroke-width="1.3" stroke-linecap="round" stroke-linejoin="miter"/>
<text class="cap" x="271.1" y="534.4">(c)</text>
</svg></body></html>
